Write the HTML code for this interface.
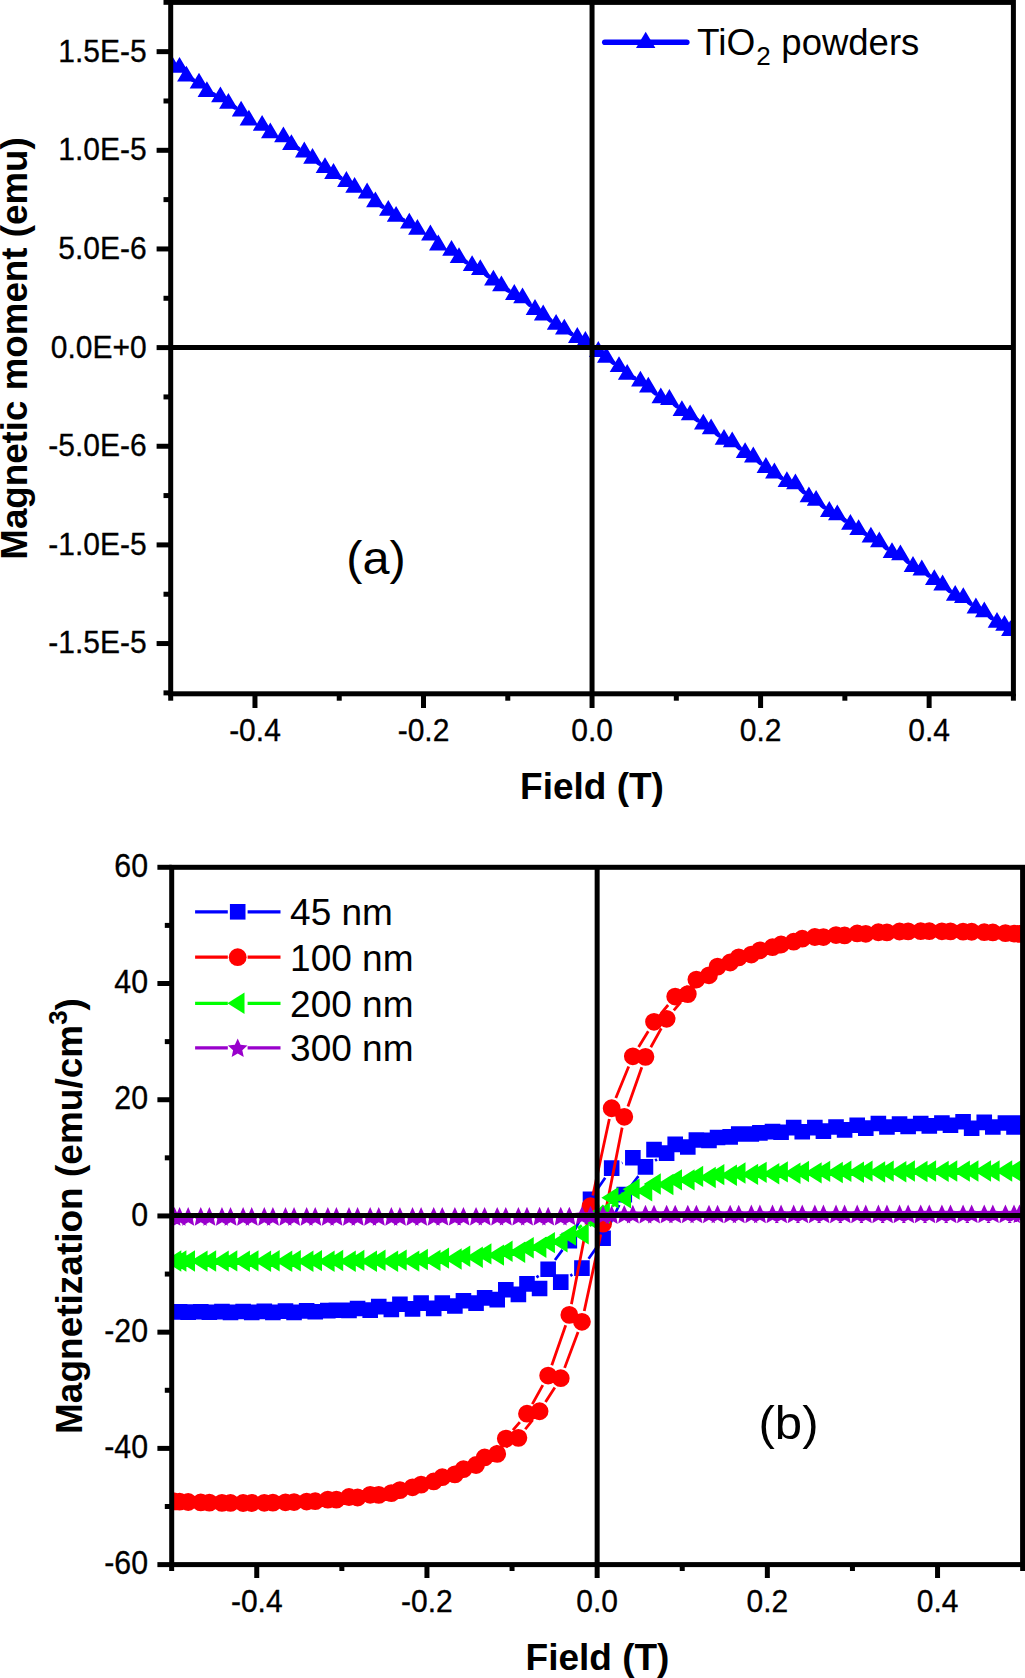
<!DOCTYPE html>
<html><head><meta charset="utf-8"><title>Magnetic measurements</title>
<style>html,body{margin:0;padding:0;background:#fff;width:1025px;height:1678px;overflow:hidden}</style>
</head><body>
<svg width="1025" height="1678" viewBox="0 0 1025 1678" style="display:block">
<rect width="1025" height="1678" fill="#fff"/>
<defs>
<clipPath id="ca"><rect x="170.7" y="2.4" width="842.7" height="691.4"/></clipPath>
<clipPath id="cb"><rect x="171.7" y="867.3" width="850.9000000000001" height="697.3"/></clipPath>
</defs>
<path clip-path="url(#ca)" fill="none" stroke="#0000ff" stroke-width="4.4" stroke-linecap="round" d="M192.54 79.66L192.86 79.84M213.45 94.27L213.85 94.43M234.36 107.06L235.14 107.54M297.47 148.18L298.23 148.62M318.09 162.61L319.41 163.59M339.45 177.29L340.45 177.91M381.25 205.85L382.45 206.65M402.32 219.61L403.08 219.99M464.99 261.41L466.11 262.09M485.76 274.18L487.94 275.92M507.2 289.81L508.5 290.69M527.61 302.68L529.89 304.82M548.86 319.22L550.44 320.38M570.2 333.07L571.4 333.83M590.91 345.82L592.79 347.28M611.95 361.64L613.35 362.66M633.44 377.67L634.16 378.03M653.64 391.83L655.46 393.37M674.61 404.27L676.69 406.13M695.8 418.96L697.6 420.24M716.53 433.42L718.57 435.08M737.57 446.39L739.73 448.21M758.68 461.58L760.52 463.12M780.17 477.07L781.13 477.73M800.46 488.84L803.84 492.06M821.46 505.01L823.94 507.09M842.95 519.04L844.75 520.36M864.55 533.38L864.95 533.62M884.63 546.53L886.67 548.27M905.53 559.66L907.87 561.84M927.33 574.39L928.77 575.51M948.02 589.53L949.78 590.97M968.72 602.23L970.48 603.67M989.69 616.46L991.61 618.04"/>
<path clip-path="url(#ca)" fill="#0000ff" d="M171.8 55.2L181.1 71L162.5 71ZM179.5 57L188.8 72.8L170.2 72.8ZM186.4 65.8L195.7 81.6L177.1 81.6ZM199 72.7L208.3 88.5L189.7 88.5ZM206.9 81.3L216.2 97.1L197.6 97.1ZM220.4 86.4L229.7 102.2L211.1 102.2ZM228.4 92.9L237.7 108.7L219.1 108.7ZM241.1 100.7L250.4 116.5L231.8 116.5ZM248.9 109.7L258.2 125.5L239.6 125.5ZM262.1 115L271.4 130.8L252.8 130.8ZM270.3 122.5L279.6 138.3L261 138.3ZM283.4 126.4L292.7 142.2L274.1 142.2ZM291.4 134.2L300.7 150L282.1 150ZM304.3 141.6L313.6 157.4L295 157.4ZM312.5 147.9L321.8 163.7L303.2 163.7ZM325 157.3L334.3 173.1L315.7 173.1ZM333.5 163.1L342.8 178.9L324.2 178.9ZM346.4 171.1L355.7 186.9L337.1 186.9ZM354.6 177L363.9 192.8L345.3 192.8ZM367.1 182.6L376.4 198.4L357.8 198.4ZM375.4 191.5L384.7 207.3L366.1 207.3ZM388.3 200L397.6 215.8L379 215.8ZM396.1 205.9L405.4 221.7L386.8 221.7ZM409.3 212.7L418.6 228.5L400 228.5ZM417.4 219L426.7 234.8L408.1 234.8ZM430.4 224.6L439.7 240.4L421.1 240.4ZM438.3 234.6L447.6 250.4L429 250.4ZM451.5 240L460.8 255.8L442.2 255.8ZM459 247.3L468.3 263.1L449.7 263.1ZM472.1 255.2L481.4 271L462.8 271ZM480.3 259.3L489.6 275.1L471 275.1ZM493.4 269.8L502.7 285.6L484.1 285.6ZM501.4 275.4L510.7 291.2L492.1 291.2ZM514.3 284.1L523.6 299.9L505 299.9ZM522.5 287.4L531.8 303.2L513.2 303.2ZM535 299.1L544.3 314.9L525.7 314.9ZM543.2 304.6L552.5 320.4L533.9 320.4ZM556.1 314L565.4 329.8L546.8 329.8ZM564.3 318.8L573.6 334.6L555 334.6ZM577.3 327.1L586.6 342.9L568 342.9ZM585.4 331L594.7 346.8L576.1 346.8ZM598.3 341.1L607.6 356.9L589 356.9ZM606.3 347L615.6 362.8L597 362.8ZM619 356.3L628.3 372.1L609.7 372.1ZM627.2 364L636.5 379.8L617.9 379.8ZM640.4 370.7L649.7 386.5L631.1 386.5ZM648.3 376.8L657.6 392.6L639 392.6ZM660.8 387.4L670.1 403.2L651.5 403.2ZM669.4 389.1L678.7 404.9L660.1 404.9ZM681.9 400.3L691.2 416.1L672.6 416.1ZM690.1 404.4L699.4 420.2L680.8 420.2ZM703.3 413.8L712.6 429.6L694 429.6ZM711.1 418.5L720.4 434.3L701.8 434.3ZM724 429L733.3 444.8L714.7 444.8ZM732.2 431.4L741.5 447.2L722.9 447.2ZM745.1 442.2L754.4 458L735.8 458ZM753.3 446.6L762.6 462.4L744 462.4ZM765.9 457.1L775.2 472.9L756.6 472.9ZM774.4 462.6L783.7 478.4L765.1 478.4ZM786.9 471.2L796.2 487L777.6 487ZM795.4 473.5L804.7 489.3L786.1 489.3ZM808.9 486.4L818.2 502.2L799.6 502.2ZM816.1 490L825.4 505.8L806.8 505.8ZM829.3 501.1L838.6 516.9L820 516.9ZM837.3 504.4L846.6 520.2L828 520.2ZM850.4 514L859.7 529.8L841.1 529.8ZM858.6 519.2L867.9 535L849.3 535ZM870.9 526.8L880.2 542.6L861.6 542.6ZM879.3 531.5L888.6 547.3L870 547.3ZM892 542.3L901.3 558.1L882.7 558.1ZM900.4 544.4L909.7 560.2L891.1 560.2ZM913 556.1L922.3 571.9L903.7 571.9ZM921.8 559.6L931.1 575.4L912.5 575.4ZM934.3 569.3L943.6 585.1L925 585.1ZM942.6 574.6L951.9 590.4L933.3 590.4ZM955.2 584.9L964.5 600.7L945.9 600.7ZM963.3 587.3L972.6 603.1L954 603.1ZM975.9 597.6L985.2 613.4L966.6 613.4ZM984.3 601.5L993.6 617.3L975 617.3ZM997 612L1006.3 627.8L987.7 627.8ZM1004.5 614.9L1013.8 630.7L995.2 630.7ZM1010.4 620.2L1019.7 636L1001.1 636Z"/>
<g stroke="#000" stroke-width="5" fill="none" stroke-linecap="butt">
<line x1="170.7" y1="347.6" x2="1013.4" y2="347.6"/>
<line x1="592.05" y1="2.4" x2="592.05" y2="693.8"/>
<rect x="170.7" y="2.4" width="842.7" height="691.4"/>
<line x1="163.5" y1="692.88" x2="170.7" y2="692.88"/>
<line x1="156.6" y1="643.55" x2="170.7" y2="643.55"/>
<line x1="163.5" y1="594.23" x2="170.7" y2="594.23"/>
<line x1="156.6" y1="544.9" x2="170.7" y2="544.9"/>
<line x1="163.5" y1="495.58" x2="170.7" y2="495.58"/>
<line x1="156.6" y1="446.25" x2="170.7" y2="446.25"/>
<line x1="163.5" y1="396.93" x2="170.7" y2="396.93"/>
<line x1="156.6" y1="347.6" x2="170.7" y2="347.6"/>
<line x1="163.5" y1="298.28" x2="170.7" y2="298.28"/>
<line x1="156.6" y1="248.95" x2="170.7" y2="248.95"/>
<line x1="163.5" y1="199.62" x2="170.7" y2="199.62"/>
<line x1="156.6" y1="150.3" x2="170.7" y2="150.3"/>
<line x1="163.5" y1="100.98" x2="170.7" y2="100.98"/>
<line x1="156.6" y1="51.65" x2="170.7" y2="51.65"/>
<line x1="163.5" y1="2.32" x2="170.7" y2="2.32"/>
<line x1="170.7" y1="693.8" x2="170.7" y2="700.7"/>
<line x1="254.97" y1="693.8" x2="254.97" y2="708"/>
<line x1="339.24" y1="693.8" x2="339.24" y2="700.7"/>
<line x1="423.51" y1="693.8" x2="423.51" y2="708"/>
<line x1="507.78" y1="693.8" x2="507.78" y2="700.7"/>
<line x1="592.05" y1="693.8" x2="592.05" y2="708"/>
<line x1="676.32" y1="693.8" x2="676.32" y2="700.7"/>
<line x1="760.59" y1="693.8" x2="760.59" y2="708"/>
<line x1="844.86" y1="693.8" x2="844.86" y2="700.7"/>
<line x1="929.13" y1="693.8" x2="929.13" y2="708"/>
<line x1="1013.4" y1="693.8" x2="1013.4" y2="700.7"/>
</g>
<g font-family="'Liberation Sans', Arial, Helvetica, sans-serif" font-size="30" fill="#000" stroke="#000" stroke-width="0.3">
<text transform="translate(146.6 61.55) scale(1 1.07)" text-anchor="end">1.5E-5</text>
<text transform="translate(146.6 160.2) scale(1 1.07)" text-anchor="end">1.0E-5</text>
<text transform="translate(146.6 258.85) scale(1 1.07)" text-anchor="end">5.0E-6</text>
<text transform="translate(146.6 357.5) scale(1 1.07)" text-anchor="end">0.0E+0</text>
<text transform="translate(146.6 456.15) scale(1 1.07)" text-anchor="end">-5.0E-6</text>
<text transform="translate(146.6 554.8) scale(1 1.07)" text-anchor="end">-1.0E-5</text>
<text transform="translate(146.6 653.45) scale(1 1.07)" text-anchor="end">-1.5E-5</text>
<text transform="translate(254.97 741) scale(1 1.07)" text-anchor="middle">-0.4</text>
<text transform="translate(423.51 741) scale(1 1.07)" text-anchor="middle">-0.2</text>
<text transform="translate(592.05 741) scale(1 1.07)" text-anchor="middle">0.0</text>
<text transform="translate(760.59 741) scale(1 1.07)" text-anchor="middle">0.2</text>
<text transform="translate(929.13 741) scale(1 1.07)" text-anchor="middle">0.4</text>
</g>
<text x="592" y="799" text-anchor="middle" font-family="'Liberation Sans', Arial, Helvetica, sans-serif" font-weight="bold" font-size="37">Field (T)</text>
<text transform="translate(26.9 348.5) rotate(-90) scale(0.993 1)" text-anchor="middle" font-family="'Liberation Sans', Arial, Helvetica, sans-serif" font-weight="bold" font-size="37">Magnetic moment (emu)</text>
<text transform="translate(375.9 574) scale(1.035 1)" text-anchor="middle" font-family="'Liberation Sans', Arial, Helvetica, sans-serif" font-size="47">(a)</text>
<line x1="604.8" y1="42.2" x2="686.8" y2="42.2" stroke="#0000ff" stroke-width="5.6" stroke-linecap="round"/>
<path fill="#0000ff" d="M645.7 31.7L655.4 47.9L636 47.9Z"/>
<text x="697" y="55" font-family="'Liberation Sans', Arial, Helvetica, sans-serif" font-size="37">TiO<tspan font-size="26" dx="1" dy="10">2</tspan><tspan dx="0.5" dy="-10" font-size="36.5"> powders</tspan></text>
<g clip-path="url(#cb)">
<path fill="none" stroke="#0000ff" stroke-width="2.7" d="M536.44 1277.36L538.69 1275.81M554.99 1260.03L562.48 1249.9M574.57 1230.42L585.25 1209.58M596.96 1189.83L605.22 1177.65M622 1163.06L622.53 1162.8M570.33 1275.78L572.34 1274.45M588.58 1258.72L596.44 1247.65M608.12 1227.93L619.25 1205.01M631.25 1185.53L638.47 1176.06M655.08 1160.63L657 1159.37"/>
<path fill="#0000ff" d="M166.7 1304.21h15.6v15.6h-15.6ZM180.38 1304.33h15.6v15.6h-15.6ZM201.55 1304.47h15.6v15.6h-15.6ZM222.72 1304.56h15.6v15.6h-15.6ZM243.9 1304.6h15.6v15.6h-15.6ZM265.07 1304.61h15.6v15.6h-15.6ZM286.25 1304.59h15.6v15.6h-15.6ZM307.42 1303.92h15.6v15.6h-15.6ZM328.6 1302.51h15.6v15.6h-15.6ZM349.77 1300.7h15.6v15.6h-15.6ZM370.95 1298.81h15.6v15.6h-15.6ZM392.12 1296.48h15.6v15.6h-15.6ZM413.3 1295.32h15.6v15.6h-15.6ZM434.47 1295.31h15.6v15.6h-15.6ZM455.65 1292.98h15.6v15.6h-15.6ZM476.82 1290.07h15.6v15.6h-15.6ZM498 1281.92h15.6v15.6h-15.6ZM519.18 1276.09h15.6v15.6h-15.6ZM540.35 1261.47h15.6v15.6h-15.6ZM561.53 1232.86h15.6v15.6h-15.6ZM582.7 1191.54h15.6v15.6h-15.6ZM603.88 1160.33h15.6v15.6h-15.6ZM625.05 1149.93h15.6v15.6h-15.6ZM646.23 1141.82h15.6v15.6h-15.6ZM667.4 1136.61h15.6v15.6h-15.6ZM688.58 1132.27h15.6v15.6h-15.6ZM709.75 1129.65h15.6v15.6h-15.6ZM730.93 1126.18h15.6v15.6h-15.6ZM752.1 1125.04h15.6v15.6h-15.6ZM773.28 1124.46h15.6v15.6h-15.6ZM794.45 1123.88h15.6v15.6h-15.6ZM815.62 1123.29h15.6v15.6h-15.6ZM836.8 1122.12h15.6v15.6h-15.6ZM857.98 1120.37h15.6v15.6h-15.6ZM879.15 1119.22h15.6v15.6h-15.6ZM900.33 1118.65h15.6v15.6h-15.6ZM921.5 1118.06h15.6v15.6h-15.6ZM942.68 1117.5h15.6v15.6h-15.6ZM963.85 1120.4h15.6v15.6h-15.6ZM985.03 1119.24h15.6v15.6h-15.6ZM1006.2 1119.24h15.6v15.6h-15.6ZM171.8 1304.01h15.6v15.6h-15.6ZM192.98 1303.95h15.6v15.6h-15.6ZM214.15 1303.85h15.6v15.6h-15.6ZM235.32 1303.72h15.6v15.6h-15.6ZM256.5 1303.55h15.6v15.6h-15.6ZM277.68 1303.34h15.6v15.6h-15.6ZM298.85 1303.12h15.6v15.6h-15.6ZM320.02 1302.86h15.6v15.6h-15.6ZM341.2 1302.58h15.6v15.6h-15.6ZM362.38 1302.29h15.6v15.6h-15.6ZM383.55 1301.77h15.6v15.6h-15.6ZM404.72 1301.12h15.6v15.6h-15.6ZM425.9 1300.54h15.6v15.6h-15.6ZM447.07 1298.2h15.6v15.6h-15.6ZM468.25 1295.28h15.6v15.6h-15.6ZM489.43 1291.81h15.6v15.6h-15.6ZM510.6 1286.57h15.6v15.6h-15.6ZM531.78 1280.75h15.6v15.6h-15.6ZM552.95 1274.33h15.6v15.6h-15.6ZM574.13 1260.29h15.6v15.6h-15.6ZM595.3 1230.48h15.6v15.6h-15.6ZM616.48 1186.87h15.6v15.6h-15.6ZM637.65 1159.12h15.6v15.6h-15.6ZM658.83 1145.28h15.6v15.6h-15.6ZM680 1139.2h15.6v15.6h-15.6ZM701.18 1132.54h15.6v15.6h-15.6ZM722.35 1129.07h15.6v15.6h-15.6ZM743.53 1126.17h15.6v15.6h-15.6ZM764.7 1123.83h15.6v15.6h-15.6ZM785.88 1119.82h15.6v15.6h-15.6ZM807.05 1119.82h15.6v15.6h-15.6ZM828.23 1119.22h15.6v15.6h-15.6ZM849.4 1117.46h15.6v15.6h-15.6ZM870.58 1115.76h15.6v15.6h-15.6ZM891.75 1116.34h15.6v15.6h-15.6ZM912.93 1115.74h15.6v15.6h-15.6ZM934.1 1115.15h15.6v15.6h-15.6ZM955.28 1114.01h15.6v15.6h-15.6ZM976.45 1114.61h15.6v15.6h-15.6ZM997.62 1115.17h15.6v15.6h-15.6ZM1011.7 1115.17h15.6v15.6h-15.6Z"/>
<path fill="none" stroke="#ff0000" stroke-width="2.8" d="M452.56 1473.31L453.16 1473.09M473.07 1463.87L475 1462.8M492.84 1450.15L497.59 1445.91M512.93 1430.21L519.85 1422.08M532.31 1404.08L542.81 1385.18M551.78 1365.18L565.7 1325.29M571.43 1304.11L588.4 1217.06M592.82 1195.51L609.35 1119.02M615.82 1098.08L628.7 1066.47M638.61 1046.91L648.27 1031.17M661.1 1013.37L668.13 1005.01M683.77 989.68L687.81 986.43M705.78 973.82L708.15 972.39M727.62 962.25L728.66 961.79M464.93 1469.95L465.99 1469.48M485.78 1459.9L487.49 1459M506 1447.24L509.63 1444.49M525.26 1429.25L532.72 1419.89M545.5 1402.03L554.82 1387.44M564.62 1367.88L578.06 1332.09M584.25 1311.04L600.78 1234.46M605.24 1212.91L622.14 1127.61M627.94 1106.45L641.79 1067.21M650.8 1047.23L661.28 1028.41M673.78 1010.44L680.64 1002.43M696.04 986.78L700.74 982.61M718.39 969.63L720.74 968.21M740.45 958.65L741.03 958.43"/>
<path fill="#ff0000" d="M165.6 1501.44a8.9 8.9 0 1 0 17.8 0a8.9 8.9 0 1 0 -17.8 0ZM179.28 1502.01a8.9 8.9 0 1 0 17.8 0a8.9 8.9 0 1 0 -17.8 0ZM200.45 1502.64a8.9 8.9 0 1 0 17.8 0a8.9 8.9 0 1 0 -17.8 0ZM221.62 1502.96a8.9 8.9 0 1 0 17.8 0a8.9 8.9 0 1 0 -17.8 0ZM242.8 1502.98a8.9 8.9 0 1 0 17.8 0a8.9 8.9 0 1 0 -17.8 0ZM263.98 1502.63a8.9 8.9 0 1 0 17.8 0a8.9 8.9 0 1 0 -17.8 0ZM285.15 1502.04a8.9 8.9 0 1 0 17.8 0a8.9 8.9 0 1 0 -17.8 0ZM306.32 1501.18a8.9 8.9 0 1 0 17.8 0a8.9 8.9 0 1 0 -17.8 0ZM327.5 1499.65a8.9 8.9 0 1 0 17.8 0a8.9 8.9 0 1 0 -17.8 0ZM348.68 1497.51a8.9 8.9 0 1 0 17.8 0a8.9 8.9 0 1 0 -17.8 0ZM369.85 1494.83a8.9 8.9 0 1 0 17.8 0a8.9 8.9 0 1 0 -17.8 0ZM391.02 1490.13a8.9 8.9 0 1 0 17.8 0a8.9 8.9 0 1 0 -17.8 0ZM412.2 1484.6a8.9 8.9 0 1 0 17.8 0a8.9 8.9 0 1 0 -17.8 0ZM433.38 1477.2a8.9 8.9 0 1 0 17.8 0a8.9 8.9 0 1 0 -17.8 0ZM454.55 1469.2a8.9 8.9 0 1 0 17.8 0a8.9 8.9 0 1 0 -17.8 0ZM475.73 1457.47a8.9 8.9 0 1 0 17.8 0a8.9 8.9 0 1 0 -17.8 0ZM496.9 1438.59a8.9 8.9 0 1 0 17.8 0a8.9 8.9 0 1 0 -17.8 0ZM518.08 1413.7a8.9 8.9 0 1 0 17.8 0a8.9 8.9 0 1 0 -17.8 0ZM539.25 1375.56a8.9 8.9 0 1 0 17.8 0a8.9 8.9 0 1 0 -17.8 0ZM560.43 1314.9a8.9 8.9 0 1 0 17.8 0a8.9 8.9 0 1 0 -17.8 0ZM581.6 1206.26a8.9 8.9 0 1 0 17.8 0a8.9 8.9 0 1 0 -17.8 0ZM602.77 1108.27a8.9 8.9 0 1 0 17.8 0a8.9 8.9 0 1 0 -17.8 0ZM623.95 1056.28a8.9 8.9 0 1 0 17.8 0a8.9 8.9 0 1 0 -17.8 0ZM645.12 1021.8a8.9 8.9 0 1 0 17.8 0a8.9 8.9 0 1 0 -17.8 0ZM666.3 996.58a8.9 8.9 0 1 0 17.8 0a8.9 8.9 0 1 0 -17.8 0ZM687.48 979.53a8.9 8.9 0 1 0 17.8 0a8.9 8.9 0 1 0 -17.8 0ZM708.65 966.68a8.9 8.9 0 1 0 17.8 0a8.9 8.9 0 1 0 -17.8 0ZM729.83 957.35a8.9 8.9 0 1 0 17.8 0a8.9 8.9 0 1 0 -17.8 0ZM751 950.33a8.9 8.9 0 1 0 17.8 0a8.9 8.9 0 1 0 -17.8 0ZM772.18 944.5a8.9 8.9 0 1 0 17.8 0a8.9 8.9 0 1 0 -17.8 0ZM793.35 938.72a8.9 8.9 0 1 0 17.8 0a8.9 8.9 0 1 0 -17.8 0ZM814.52 937.07a8.9 8.9 0 1 0 17.8 0a8.9 8.9 0 1 0 -17.8 0ZM835.7 935.47a8.9 8.9 0 1 0 17.8 0a8.9 8.9 0 1 0 -17.8 0ZM856.88 933.8a8.9 8.9 0 1 0 17.8 0a8.9 8.9 0 1 0 -17.8 0ZM878.05 932.35a8.9 8.9 0 1 0 17.8 0a8.9 8.9 0 1 0 -17.8 0ZM899.23 931.41a8.9 8.9 0 1 0 17.8 0a8.9 8.9 0 1 0 -17.8 0ZM920.4 931.22a8.9 8.9 0 1 0 17.8 0a8.9 8.9 0 1 0 -17.8 0ZM941.58 931.37a8.9 8.9 0 1 0 17.8 0a8.9 8.9 0 1 0 -17.8 0ZM962.75 931.75a8.9 8.9 0 1 0 17.8 0a8.9 8.9 0 1 0 -17.8 0ZM983.93 932.46a8.9 8.9 0 1 0 17.8 0a8.9 8.9 0 1 0 -17.8 0ZM1005.1 933.56a8.9 8.9 0 1 0 17.8 0a8.9 8.9 0 1 0 -17.8 0ZM170.7 1501.67a8.9 8.9 0 1 0 17.8 0a8.9 8.9 0 1 0 -17.8 0ZM191.88 1502.42a8.9 8.9 0 1 0 17.8 0a8.9 8.9 0 1 0 -17.8 0ZM213.05 1502.87a8.9 8.9 0 1 0 17.8 0a8.9 8.9 0 1 0 -17.8 0ZM234.22 1503.01a8.9 8.9 0 1 0 17.8 0a8.9 8.9 0 1 0 -17.8 0ZM255.4 1502.81a8.9 8.9 0 1 0 17.8 0a8.9 8.9 0 1 0 -17.8 0ZM276.58 1502.31a8.9 8.9 0 1 0 17.8 0a8.9 8.9 0 1 0 -17.8 0ZM297.75 1501.54a8.9 8.9 0 1 0 17.8 0a8.9 8.9 0 1 0 -17.8 0ZM318.93 1499.62a8.9 8.9 0 1 0 17.8 0a8.9 8.9 0 1 0 -17.8 0ZM340.1 1497.04a8.9 8.9 0 1 0 17.8 0a8.9 8.9 0 1 0 -17.8 0ZM361.28 1494.79a8.9 8.9 0 1 0 17.8 0a8.9 8.9 0 1 0 -17.8 0ZM382.45 1493.13a8.9 8.9 0 1 0 17.8 0a8.9 8.9 0 1 0 -17.8 0ZM403.62 1487.29a8.9 8.9 0 1 0 17.8 0a8.9 8.9 0 1 0 -17.8 0ZM424.8 1481.45a8.9 8.9 0 1 0 17.8 0a8.9 8.9 0 1 0 -17.8 0ZM445.98 1474.4a8.9 8.9 0 1 0 17.8 0a8.9 8.9 0 1 0 -17.8 0ZM467.15 1465.03a8.9 8.9 0 1 0 17.8 0a8.9 8.9 0 1 0 -17.8 0ZM488.33 1453.88a8.9 8.9 0 1 0 17.8 0a8.9 8.9 0 1 0 -17.8 0ZM509.5 1437.85a8.9 8.9 0 1 0 17.8 0a8.9 8.9 0 1 0 -17.8 0ZM530.68 1411.29a8.9 8.9 0 1 0 17.8 0a8.9 8.9 0 1 0 -17.8 0ZM551.85 1378.18a8.9 8.9 0 1 0 17.8 0a8.9 8.9 0 1 0 -17.8 0ZM573.03 1321.79a8.9 8.9 0 1 0 17.8 0a8.9 8.9 0 1 0 -17.8 0ZM594.2 1223.7a8.9 8.9 0 1 0 17.8 0a8.9 8.9 0 1 0 -17.8 0ZM615.38 1116.82a8.9 8.9 0 1 0 17.8 0a8.9 8.9 0 1 0 -17.8 0ZM636.55 1056.84a8.9 8.9 0 1 0 17.8 0a8.9 8.9 0 1 0 -17.8 0ZM657.73 1018.79a8.9 8.9 0 1 0 17.8 0a8.9 8.9 0 1 0 -17.8 0ZM678.9 994.07a8.9 8.9 0 1 0 17.8 0a8.9 8.9 0 1 0 -17.8 0ZM700.08 975.32a8.9 8.9 0 1 0 17.8 0a8.9 8.9 0 1 0 -17.8 0ZM721.25 962.52a8.9 8.9 0 1 0 17.8 0a8.9 8.9 0 1 0 -17.8 0ZM742.43 954.55a8.9 8.9 0 1 0 17.8 0a8.9 8.9 0 1 0 -17.8 0ZM763.6 947.18a8.9 8.9 0 1 0 17.8 0a8.9 8.9 0 1 0 -17.8 0ZM784.78 941.68a8.9 8.9 0 1 0 17.8 0a8.9 8.9 0 1 0 -17.8 0ZM805.95 937.02a8.9 8.9 0 1 0 17.8 0a8.9 8.9 0 1 0 -17.8 0ZM827.13 935.06a8.9 8.9 0 1 0 17.8 0a8.9 8.9 0 1 0 -17.8 0ZM848.3 933.45a8.9 8.9 0 1 0 17.8 0a8.9 8.9 0 1 0 -17.8 0ZM869.48 932.26a8.9 8.9 0 1 0 17.8 0a8.9 8.9 0 1 0 -17.8 0ZM890.65 931.49a8.9 8.9 0 1 0 17.8 0a8.9 8.9 0 1 0 -17.8 0ZM911.83 931.21a8.9 8.9 0 1 0 17.8 0a8.9 8.9 0 1 0 -17.8 0ZM933 931.3a8.9 8.9 0 1 0 17.8 0a8.9 8.9 0 1 0 -17.8 0ZM954.18 931.61a8.9 8.9 0 1 0 17.8 0a8.9 8.9 0 1 0 -17.8 0ZM975.35 932.2a8.9 8.9 0 1 0 17.8 0a8.9 8.9 0 1 0 -17.8 0ZM996.52 933.13a8.9 8.9 0 1 0 17.8 0a8.9 8.9 0 1 0 -17.8 0ZM1010.6 933.96a8.9 8.9 0 1 0 17.8 0a8.9 8.9 0 1 0 -17.8 0Z"/>
<path fill="none" stroke="#00ff00" stroke-width="2.7" d="M578.03 1228.32L581.8 1225.41M598.33 1210.96L603.84 1205.53M621.86 1193.64L622.67 1193.31M571.07 1237.89L571.61 1237.69M589.74 1226.13L595.29 1220.62M612.07 1206.51L615.31 1204.21"/>
<path fill="#00ff00" d="M164.2 1260.98L181.3 1250.28L181.3 1271.68ZM177.88 1260.98L194.98 1250.28L194.98 1271.68ZM199.05 1260.95L216.15 1250.25L216.15 1271.65ZM220.22 1260.92L237.32 1250.22L237.32 1271.62ZM241.4 1260.87L258.5 1250.17L258.5 1271.57ZM262.57 1260.81L279.68 1250.11L279.68 1271.51ZM283.75 1260.73L300.85 1250.03L300.85 1271.43ZM304.92 1260.64L322.02 1249.94L322.02 1271.34ZM326.1 1260.54L343.2 1249.84L343.2 1271.24ZM347.27 1260.41L364.38 1249.71L364.38 1271.11ZM368.45 1260.27L385.55 1249.57L385.55 1270.97ZM389.62 1260.11L406.72 1249.41L406.72 1270.81ZM410.8 1259.52L427.9 1248.82L427.9 1270.22ZM431.97 1258.17L449.07 1247.47L449.07 1268.87ZM453.15 1256.23L470.25 1245.53L470.25 1266.93ZM474.32 1253.88L491.43 1243.18L491.43 1264.58ZM495.5 1251.3L512.6 1240.6L512.6 1262ZM516.68 1247.7L533.77 1237L533.77 1258.4ZM537.85 1242.64L554.95 1231.94L554.95 1253.34ZM559.03 1235.04L576.12 1224.34L576.12 1245.74ZM580.2 1218.68L597.3 1207.98L597.3 1229.38ZM601.38 1197.81L618.47 1187.11L618.47 1208.51ZM622.55 1189.14L639.65 1178.44L639.65 1199.84ZM643.73 1183.93L660.82 1173.23L660.82 1194.63ZM664.9 1179.87L682 1169.17L682 1190.57ZM686.08 1176.4L703.17 1165.7L703.17 1187.1ZM707.25 1174.66L724.35 1163.96L724.35 1185.36ZM728.43 1172.94L745.52 1162.24L745.52 1183.64ZM749.6 1172.35L766.7 1161.65L766.7 1183.05ZM770.78 1171.9L787.88 1161.2L787.88 1182.6ZM791.95 1171.57L809.05 1160.87L809.05 1182.27ZM813.12 1171.35L830.22 1160.65L830.22 1182.05ZM834.3 1171.22L851.4 1160.52L851.4 1181.92ZM855.48 1171.16L872.58 1160.46L872.58 1181.86ZM876.65 1171.1L893.75 1160.4L893.75 1181.8ZM897.83 1171.05L914.92 1160.35L914.92 1181.75ZM919 1171.01L936.1 1160.31L936.1 1181.71ZM940.18 1170.97L957.27 1160.27L957.27 1181.67ZM961.35 1170.95L978.45 1160.25L978.45 1181.65ZM982.53 1170.93L999.62 1160.23L999.62 1181.63ZM1003.7 1170.92L1020.8 1160.22L1020.8 1181.62ZM169.3 1261.05L186.4 1250.35L186.4 1271.75ZM190.48 1261.11L207.58 1250.41L207.58 1271.81ZM211.65 1261.16L228.75 1250.46L228.75 1271.86ZM232.82 1261.19L249.93 1250.49L249.93 1271.89ZM254 1261.22L271.1 1250.52L271.1 1271.92ZM275.18 1261.24L292.28 1250.54L292.28 1271.94ZM296.35 1261.26L313.45 1250.56L313.45 1271.96ZM317.52 1261.27L334.62 1250.57L334.62 1271.97ZM338.7 1261.27L355.8 1250.57L355.8 1271.97ZM359.88 1261.28L376.98 1250.58L376.98 1271.98ZM381.05 1261.28L398.15 1250.58L398.15 1271.98ZM402.22 1261.15L419.32 1250.45L419.32 1271.85ZM423.4 1260.39L440.5 1249.69L440.5 1271.09ZM444.57 1259.06L461.68 1248.36L461.68 1269.76ZM465.75 1257.27L482.85 1246.57L482.85 1267.97ZM486.93 1255.14L504.03 1244.44L504.03 1265.84ZM508.1 1252.21L525.2 1241.51L525.2 1262.91ZM529.28 1247.22L546.38 1236.52L546.38 1257.92ZM550.45 1241.71L567.55 1231.01L567.55 1252.41ZM571.63 1233.87L588.73 1223.17L588.73 1244.57ZM592.8 1212.88L609.9 1202.18L609.9 1223.58ZM613.98 1197.83L631.07 1187.13L631.07 1208.53ZM635.15 1190.88L652.25 1180.18L652.25 1201.58ZM656.33 1184.5L673.42 1173.8L673.42 1195.2ZM677.5 1179.88L694.6 1169.18L694.6 1190.58ZM698.68 1177.56L715.77 1166.86L715.77 1188.26ZM719.85 1175.26L736.95 1164.56L736.95 1185.96ZM741.03 1174.39L758.12 1163.69L758.12 1185.09ZM762.2 1173.73L779.3 1163.03L779.3 1184.43ZM783.38 1173.23L800.48 1162.53L800.48 1183.93ZM804.55 1172.85L821.65 1162.15L821.65 1183.55ZM825.73 1172.55L842.83 1161.85L842.83 1183.25ZM846.9 1172.28L864 1161.58L864 1182.98ZM868.08 1172.02L885.17 1161.32L885.17 1182.72ZM889.25 1171.77L906.35 1161.07L906.35 1182.47ZM910.43 1171.54L927.52 1160.84L927.52 1182.24ZM931.6 1171.34L948.7 1160.64L948.7 1182.04ZM952.78 1171.17L969.88 1160.47L969.88 1181.87ZM973.95 1171.04L991.05 1160.34L991.05 1181.74ZM995.12 1170.95L1012.22 1160.25L1012.22 1181.65ZM1009.2 1170.92L1026.3 1160.22L1026.3 1181.62Z"/>
<path fill="none" stroke="#9900cc" stroke-width="2.7" d=""/>
<path fill="#9900cc" d="M174.5 1207.1L177.36 1213.47L184.3 1214.22L179.12 1218.9L180.55 1225.74L174.5 1222.26L168.45 1225.74L169.88 1218.9L164.7 1214.22L171.64 1213.47ZM188.18 1207.1L191.03 1213.47L197.97 1214.22L192.8 1218.9L194.23 1225.74L188.18 1222.26L182.12 1225.74L183.55 1218.9L178.38 1214.22L185.32 1213.47ZM209.35 1207.1L212.21 1213.47L219.15 1214.22L213.97 1218.9L215.4 1225.73L209.35 1222.26L203.3 1225.73L204.73 1218.9L199.55 1214.22L206.49 1213.47ZM230.52 1207.1L233.38 1213.47L240.32 1214.22L235.15 1218.9L236.58 1225.73L230.52 1222.26L224.47 1225.73L225.9 1218.9L220.73 1214.22L227.67 1213.47ZM251.7 1207.1L254.56 1213.46L261.5 1214.21L256.32 1218.9L257.75 1225.73L251.7 1222.26L245.65 1225.73L247.08 1218.9L241.9 1214.21L248.84 1213.46ZM272.88 1207.09L275.73 1213.46L282.67 1214.21L277.5 1218.89L278.93 1225.72L272.88 1222.25L266.82 1225.72L268.25 1218.89L263.08 1214.21L270.02 1213.46ZM294.05 1207.08L296.91 1213.45L303.85 1214.2L298.67 1218.89L300.1 1225.72L294.05 1222.24L288 1225.72L289.43 1218.89L284.25 1214.2L291.19 1213.45ZM315.22 1207.08L318.08 1213.44L325.02 1214.19L319.85 1218.88L321.28 1225.71L315.22 1222.24L309.17 1225.71L310.6 1218.88L305.43 1214.19L312.37 1213.44ZM336.4 1207.07L339.26 1213.44L346.2 1214.18L341.02 1218.87L342.45 1225.7L336.4 1222.23L330.35 1225.7L331.78 1218.87L326.6 1214.18L333.54 1213.44ZM357.57 1207.06L360.43 1213.42L367.37 1214.17L362.2 1218.86L363.63 1225.69L357.57 1222.22L351.52 1225.69L352.95 1218.86L347.78 1214.17L354.72 1213.42ZM378.75 1207.04L381.61 1213.41L388.55 1214.16L383.37 1218.84L384.8 1225.67L378.75 1222.2L372.7 1225.67L374.13 1218.84L368.95 1214.16L375.89 1213.41ZM399.92 1207.03L402.78 1213.39L409.72 1214.14L404.55 1218.83L405.98 1225.66L399.92 1222.19L393.87 1225.66L395.3 1218.83L390.13 1214.14L397.07 1213.39ZM421.1 1207.01L423.96 1213.38L430.9 1214.12L425.72 1218.81L427.15 1225.64L421.1 1222.17L415.05 1225.64L416.48 1218.81L411.3 1214.12L418.24 1213.38ZM442.27 1206.99L445.13 1213.35L452.07 1214.1L446.9 1218.79L448.33 1225.62L442.27 1222.15L436.22 1225.62L437.65 1218.79L432.48 1214.1L439.42 1213.35ZM463.45 1206.96L466.31 1213.33L473.25 1214.08L468.07 1218.76L469.5 1225.59L463.45 1222.12L457.4 1225.59L458.83 1218.76L453.65 1214.08L460.59 1213.33ZM484.62 1206.94L487.48 1213.3L494.42 1214.05L489.25 1218.74L490.68 1225.57L484.62 1222.1L478.57 1225.57L480 1218.74L474.83 1214.05L481.77 1213.3ZM505.8 1206.9L508.66 1213.27L515.6 1214.02L510.42 1218.71L511.85 1225.54L505.8 1222.06L499.75 1225.54L501.18 1218.71L496 1214.02L502.94 1213.27ZM526.98 1206.87L529.83 1213.24L536.77 1213.99L531.6 1218.67L533.03 1225.5L526.98 1222.03L520.92 1225.5L522.35 1218.67L517.18 1213.99L524.12 1213.24ZM548.15 1206.83L551.01 1213.2L557.95 1213.95L552.77 1218.64L554.2 1225.47L548.15 1221.99L542.1 1225.47L543.53 1218.64L538.35 1213.95L545.29 1213.2ZM569.33 1206.66L572.18 1213.03L579.12 1213.78L573.95 1218.46L575.38 1225.29L569.33 1221.82L563.27 1225.29L564.7 1218.46L559.53 1213.78L566.47 1213.03ZM590.5 1205.85L593.36 1212.22L600.3 1212.97L595.12 1217.65L596.55 1224.49L590.5 1221.01L584.45 1224.49L585.88 1217.65L580.7 1212.97L587.64 1212.22ZM611.67 1205.26L614.53 1211.63L621.47 1212.38L616.3 1217.07L617.73 1223.9L611.67 1220.42L605.62 1223.9L607.05 1217.07L601.88 1212.38L608.82 1211.63ZM632.85 1204.83L635.71 1211.2L642.65 1211.94L637.47 1216.63L638.9 1223.46L632.85 1219.99L626.8 1223.46L628.23 1216.63L623.05 1211.94L629.99 1211.2ZM654.02 1204.75L656.88 1211.12L663.82 1211.87L658.65 1216.55L660.08 1223.39L654.02 1219.91L647.97 1223.39L649.4 1216.55L644.23 1211.87L651.17 1211.12ZM675.2 1204.72L678.06 1211.08L685 1211.83L679.82 1216.52L681.25 1223.35L675.2 1219.88L669.15 1223.35L670.58 1216.52L665.4 1211.83L672.34 1211.08ZM696.38 1204.68L699.23 1211.05L706.17 1211.8L701 1216.48L702.43 1223.32L696.38 1219.84L690.32 1223.32L691.75 1216.48L686.58 1211.8L693.52 1211.05ZM717.55 1204.65L720.41 1211.02L727.35 1211.77L722.17 1216.46L723.6 1223.29L717.55 1219.81L711.5 1223.29L712.93 1216.46L707.75 1211.77L714.69 1211.02ZM738.73 1204.63L741.58 1210.99L748.52 1211.74L743.35 1216.43L744.78 1223.26L738.73 1219.79L732.67 1223.26L734.1 1216.43L728.93 1211.74L735.87 1210.99ZM759.9 1204.6L762.76 1210.97L769.7 1211.72L764.52 1216.4L765.95 1223.24L759.9 1219.76L753.85 1223.24L755.28 1216.4L750.1 1211.72L757.04 1210.97ZM781.08 1204.58L783.93 1210.95L790.87 1211.7L785.7 1216.38L787.13 1223.21L781.08 1219.74L775.02 1223.21L776.45 1216.38L771.28 1211.7L778.22 1210.95ZM802.25 1204.56L805.11 1210.93L812.05 1211.68L806.87 1216.37L808.3 1223.2L802.25 1219.72L796.2 1223.2L797.63 1216.37L792.45 1211.68L799.39 1210.93ZM823.42 1204.55L826.28 1210.92L833.22 1211.66L828.05 1216.35L829.48 1223.18L823.42 1219.71L817.37 1223.18L818.8 1216.35L813.63 1211.66L820.57 1210.92ZM844.6 1204.53L847.46 1210.9L854.4 1211.65L849.22 1216.34L850.65 1223.17L844.6 1219.69L838.55 1223.17L839.98 1216.34L834.8 1211.65L841.74 1210.9ZM865.78 1204.52L868.63 1210.89L875.57 1211.64L870.4 1216.32L871.83 1223.16L865.78 1219.68L859.72 1223.16L861.15 1216.32L855.98 1211.64L862.92 1210.89ZM886.95 1204.51L889.81 1210.88L896.75 1211.63L891.57 1216.31L893 1223.15L886.95 1219.67L880.9 1223.15L882.33 1216.31L877.15 1211.63L884.09 1210.88ZM908.12 1204.51L910.98 1210.87L917.92 1211.62L912.75 1216.31L914.18 1223.14L908.12 1219.67L902.07 1223.14L903.5 1216.31L898.33 1211.62L905.27 1210.87ZM929.3 1204.5L932.16 1210.87L939.1 1211.62L933.92 1216.3L935.35 1223.13L929.3 1219.66L923.25 1223.13L924.68 1216.3L919.5 1211.62L926.44 1210.87ZM950.48 1204.49L953.33 1210.86L960.27 1211.61L955.1 1216.3L956.53 1223.13L950.48 1219.65L944.42 1223.13L945.85 1216.3L940.68 1211.61L947.62 1210.86ZM971.65 1204.49L974.51 1210.86L981.45 1211.61L976.27 1216.29L977.7 1223.12L971.65 1219.65L965.6 1223.12L967.03 1216.29L961.85 1211.61L968.79 1210.86ZM992.83 1204.49L995.68 1210.86L1002.62 1211.61L997.45 1216.29L998.88 1223.12L992.83 1219.65L986.77 1223.12L988.2 1216.29L983.03 1211.61L989.97 1210.86ZM1014 1204.49L1016.86 1210.86L1023.8 1211.61L1018.62 1216.29L1020.05 1223.12L1014 1219.65L1007.95 1223.12L1009.38 1216.29L1004.2 1211.61L1011.14 1210.86ZM179.6 1207.1L182.46 1213.47L189.4 1214.22L184.22 1218.9L185.65 1225.74L179.6 1222.26L173.55 1225.74L174.98 1218.9L169.8 1214.22L176.74 1213.47ZM200.78 1207.1L203.63 1213.47L210.57 1214.22L205.4 1218.9L206.83 1225.73L200.78 1222.26L194.72 1225.73L196.15 1218.9L190.98 1214.22L197.92 1213.47ZM221.95 1207.1L224.81 1213.47L231.75 1214.22L226.57 1218.9L228 1225.73L221.95 1222.26L215.9 1225.73L217.33 1218.9L212.15 1214.22L219.09 1213.47ZM243.12 1207.1L245.98 1213.46L252.92 1214.21L247.75 1218.9L249.18 1225.73L243.12 1222.26L237.07 1225.73L238.5 1218.9L233.33 1214.21L240.27 1213.46ZM264.3 1207.09L267.16 1213.46L274.1 1214.21L268.92 1218.89L270.35 1225.73L264.3 1222.25L258.25 1225.73L259.68 1218.89L254.5 1214.21L261.44 1213.46ZM285.48 1207.09L288.33 1213.46L295.27 1214.2L290.1 1218.89L291.53 1225.72L285.48 1222.25L279.42 1225.72L280.85 1218.89L275.68 1214.2L282.62 1213.46ZM306.65 1207.08L309.51 1213.45L316.45 1214.2L311.27 1218.88L312.7 1225.71L306.65 1222.24L300.6 1225.71L302.03 1218.88L296.85 1214.2L303.79 1213.45ZM327.82 1207.07L330.68 1213.44L337.62 1214.19L332.45 1218.87L333.88 1225.7L327.82 1222.23L321.77 1225.7L323.2 1218.87L318.03 1214.19L324.97 1213.44ZM349 1207.06L351.86 1213.43L358.8 1214.18L353.62 1218.86L355.05 1225.69L349 1222.22L342.95 1225.69L344.38 1218.86L339.2 1214.18L346.14 1213.43ZM370.18 1207.05L373.03 1213.42L379.97 1214.16L374.8 1218.85L376.23 1225.68L370.18 1222.21L364.12 1225.68L365.55 1218.85L360.38 1214.16L367.32 1213.42ZM391.35 1207.03L394.21 1213.4L401.15 1214.15L395.97 1218.83L397.4 1225.67L391.35 1222.19L385.3 1225.67L386.73 1218.83L381.55 1214.15L388.49 1213.4ZM412.52 1207.02L415.38 1213.38L422.32 1214.13L417.15 1218.82L418.58 1225.65L412.52 1222.18L406.47 1225.65L407.9 1218.82L402.73 1214.13L409.67 1213.38ZM433.7 1206.99L436.56 1213.36L443.5 1214.11L438.32 1218.8L439.75 1225.63L433.7 1222.15L427.65 1225.63L429.08 1218.8L423.9 1214.11L430.84 1213.36ZM454.88 1206.97L457.73 1213.34L464.67 1214.09L459.5 1218.77L460.93 1225.61L454.88 1222.13L448.82 1225.61L450.25 1218.77L445.08 1214.09L452.02 1213.34ZM476.05 1206.95L478.91 1213.31L485.85 1214.06L480.67 1218.75L482.1 1225.58L476.05 1222.11L470 1225.58L471.43 1218.75L466.25 1214.06L473.19 1213.31ZM497.23 1206.92L500.08 1213.29L507.02 1214.03L501.85 1218.72L503.28 1225.55L497.23 1222.08L491.17 1225.55L492.6 1218.72L487.43 1214.03L494.37 1213.29ZM518.4 1206.89L521.26 1213.25L528.2 1214L523.02 1218.69L524.45 1225.52L518.4 1222.05L512.35 1225.52L513.78 1218.69L508.6 1214L515.54 1213.25ZM539.58 1206.85L542.43 1213.22L549.37 1213.97L544.2 1218.65L545.63 1225.48L539.58 1222.01L533.52 1225.48L534.95 1218.65L529.78 1213.97L536.72 1213.22ZM560.75 1206.81L563.61 1213.18L570.55 1213.93L565.37 1218.61L566.8 1225.44L560.75 1221.97L554.7 1225.44L556.13 1218.61L550.95 1213.93L557.89 1213.18ZM581.93 1206.2L584.78 1212.56L591.72 1213.31L586.55 1218L587.98 1224.83L581.93 1221.36L575.87 1224.83L577.3 1218L572.13 1213.31L579.07 1212.56ZM603.1 1205.49L605.96 1211.86L612.9 1212.61L607.72 1217.29L609.15 1224.13L603.1 1220.65L597.05 1224.13L598.48 1217.29L593.3 1212.61L600.24 1211.86ZM624.27 1204.96L627.13 1211.33L634.07 1212.08L628.9 1216.77L630.33 1223.6L624.27 1220.12L618.22 1223.6L619.65 1216.77L614.48 1212.08L621.42 1211.33ZM645.45 1204.77L648.31 1211.14L655.25 1211.89L650.07 1216.57L651.5 1223.4L645.45 1219.93L639.4 1223.4L640.83 1216.57L635.65 1211.89L642.59 1211.14ZM666.62 1204.73L669.48 1211.1L676.42 1211.85L671.25 1216.53L672.68 1223.36L666.62 1219.89L660.57 1223.36L662 1216.53L656.83 1211.85L663.77 1211.1ZM687.8 1204.7L690.66 1211.06L697.6 1211.81L692.42 1216.5L693.85 1223.33L687.8 1219.86L681.75 1223.33L683.18 1216.5L678 1211.81L684.94 1211.06ZM708.98 1204.66L711.83 1211.03L718.77 1211.78L713.6 1216.47L715.03 1223.3L708.98 1219.82L702.92 1223.3L704.35 1216.47L699.18 1211.78L706.12 1211.03ZM730.15 1204.64L733.01 1211.01L739.95 1211.75L734.77 1216.44L736.2 1223.27L730.15 1219.8L724.1 1223.27L725.53 1216.44L720.35 1211.75L727.29 1211.01ZM751.33 1204.61L754.18 1210.98L761.12 1211.73L755.95 1216.41L757.38 1223.25L751.33 1219.77L745.27 1223.25L746.7 1216.41L741.53 1211.73L748.47 1210.98ZM772.5 1204.59L775.36 1210.96L782.3 1211.71L777.12 1216.39L778.55 1223.22L772.5 1219.75L766.45 1223.22L767.88 1216.39L762.7 1211.71L769.64 1210.96ZM793.68 1204.57L796.53 1210.94L803.47 1211.69L798.3 1216.37L799.73 1223.2L793.68 1219.73L787.62 1223.2L789.05 1216.37L783.88 1211.69L790.82 1210.94ZM814.85 1204.55L817.71 1210.92L824.65 1211.67L819.47 1216.36L820.9 1223.19L814.85 1219.71L808.8 1223.19L810.23 1216.36L805.05 1211.67L811.99 1210.92ZM836.03 1204.54L838.88 1210.91L845.82 1211.66L840.65 1216.34L842.08 1223.17L836.03 1219.7L829.97 1223.17L831.4 1216.34L826.23 1211.66L833.17 1210.91ZM857.2 1204.53L860.06 1210.9L867 1211.64L861.82 1216.33L863.25 1223.16L857.2 1219.69L851.15 1223.16L852.58 1216.33L847.4 1211.64L854.34 1210.9ZM878.38 1204.52L881.23 1210.88L888.17 1211.63L883 1216.32L884.43 1223.15L878.38 1219.68L872.32 1223.15L873.75 1216.32L868.58 1211.63L875.52 1210.88ZM899.55 1204.51L902.41 1210.88L909.35 1211.63L904.17 1216.31L905.6 1223.14L899.55 1219.67L893.5 1223.14L894.93 1216.31L889.75 1211.63L896.69 1210.88ZM920.73 1204.5L923.58 1210.87L930.52 1211.62L925.35 1216.3L926.78 1223.13L920.73 1219.66L914.67 1223.13L916.1 1216.3L910.93 1211.62L917.87 1210.87ZM941.9 1204.5L944.76 1210.86L951.7 1211.61L946.52 1216.3L947.95 1223.13L941.9 1219.66L935.85 1223.13L937.28 1216.3L932.1 1211.61L939.04 1210.86ZM963.08 1204.49L965.93 1210.86L972.87 1211.61L967.7 1216.29L969.13 1223.13L963.08 1219.65L957.02 1223.13L958.45 1216.29L953.28 1211.61L960.22 1210.86ZM984.25 1204.49L987.11 1210.86L994.05 1211.61L988.87 1216.29L990.3 1223.12L984.25 1219.65L978.2 1223.12L979.63 1216.29L974.45 1211.61L981.39 1210.86ZM1005.42 1204.49L1008.28 1210.86L1015.22 1211.61L1010.05 1216.29L1011.48 1223.12L1005.42 1219.65L999.37 1223.12L1000.8 1216.29L995.63 1211.61L1002.57 1210.86ZM1019.5 1204.49L1022.36 1210.86L1029.3 1211.61L1024.12 1216.29L1025.55 1223.12L1019.5 1219.65L1013.45 1223.12L1014.88 1216.29L1009.7 1211.61L1016.64 1210.86Z"/>
</g>
<g stroke="#000" stroke-width="5" fill="none">
<line x1="171.7" y1="1215.6" x2="1022.6" y2="1215.6"/>
<line x1="597.15" y1="867.3" x2="597.15" y2="1564.6"/>
<rect x="171.7" y="867.3" width="850.9" height="697.3"/>
<line x1="157.4" y1="1564.61" x2="171.7" y2="1564.61"/>
<line x1="164.8" y1="1506.5" x2="171.7" y2="1506.5"/>
<line x1="157.4" y1="1448.39" x2="171.7" y2="1448.39"/>
<line x1="164.8" y1="1390.28" x2="171.7" y2="1390.28"/>
<line x1="157.4" y1="1332.17" x2="171.7" y2="1332.17"/>
<line x1="164.8" y1="1274.06" x2="171.7" y2="1274.06"/>
<line x1="157.4" y1="1215.95" x2="171.7" y2="1215.95"/>
<line x1="164.8" y1="1157.84" x2="171.7" y2="1157.84"/>
<line x1="157.4" y1="1099.73" x2="171.7" y2="1099.73"/>
<line x1="164.8" y1="1041.62" x2="171.7" y2="1041.62"/>
<line x1="157.4" y1="983.51" x2="171.7" y2="983.51"/>
<line x1="164.8" y1="925.4" x2="171.7" y2="925.4"/>
<line x1="157.4" y1="867.29" x2="171.7" y2="867.29"/>
<line x1="171.65" y1="1564.6" x2="171.65" y2="1571"/>
<line x1="256.75" y1="1564.6" x2="256.75" y2="1578"/>
<line x1="341.85" y1="1564.6" x2="341.85" y2="1571"/>
<line x1="426.95" y1="1564.6" x2="426.95" y2="1578"/>
<line x1="512.05" y1="1564.6" x2="512.05" y2="1571"/>
<line x1="597.15" y1="1564.6" x2="597.15" y2="1578"/>
<line x1="682.25" y1="1564.6" x2="682.25" y2="1571"/>
<line x1="767.35" y1="1564.6" x2="767.35" y2="1578"/>
<line x1="852.45" y1="1564.6" x2="852.45" y2="1571"/>
<line x1="937.55" y1="1564.6" x2="937.55" y2="1578"/>
<line x1="1022.65" y1="1564.6" x2="1022.65" y2="1571"/>
</g>
<g font-family="'Liberation Sans', Arial, Helvetica, sans-serif" font-size="30" fill="#000" stroke="#000" stroke-width="0.3">
<text transform="translate(148 876.99) scale(1.01 1.08)" text-anchor="end">60</text>
<text transform="translate(148 993.21) scale(1.01 1.08)" text-anchor="end">40</text>
<text transform="translate(148 1109.43) scale(1.01 1.08)" text-anchor="end">20</text>
<text transform="translate(148 1225.65) scale(1.01 1.08)" text-anchor="end">0</text>
<text transform="translate(148 1341.87) scale(1.01 1.08)" text-anchor="end">-20</text>
<text transform="translate(148 1458.09) scale(1.01 1.08)" text-anchor="end">-40</text>
<text transform="translate(148 1574.31) scale(1.01 1.08)" text-anchor="end">-60</text>
<text transform="translate(256.75 1612) scale(1 1.07)" text-anchor="middle">-0.4</text>
<text transform="translate(426.95 1612) scale(1 1.07)" text-anchor="middle">-0.2</text>
<text transform="translate(597.15 1612) scale(1 1.07)" text-anchor="middle">0.0</text>
<text transform="translate(767.35 1612) scale(1 1.07)" text-anchor="middle">0.2</text>
<text transform="translate(937.55 1612) scale(1 1.07)" text-anchor="middle">0.4</text>
</g>
<text x="597.5" y="1670" text-anchor="middle" font-family="'Liberation Sans', Arial, Helvetica, sans-serif" font-weight="bold" font-size="37">Field (T)</text>
<text transform="translate(82 1216) rotate(-90)" text-anchor="middle" font-family="'Liberation Sans', Arial, Helvetica, sans-serif" font-weight="bold" font-size="37">Magnetization (emu/cm<tspan font-size="26" dy="-15">3</tspan><tspan dy="15">)</tspan></text>
<text transform="translate(788.5 1439) scale(1.045 1)" text-anchor="middle" font-family="'Liberation Sans', Arial, Helvetica, sans-serif" font-size="47">(b)</text>
<path stroke="#0000ff" stroke-width="3.2" d="M195.1 911.8H227.8M247.6 911.8H280.5"/>
<path fill="#0000ff" d="M229.9 904h15.6v15.6h-15.6Z"/>
<text transform="translate(290.1 925.3) scale(1 1.01)" font-family="'Liberation Sans', Arial, Helvetica, sans-serif" font-size="37">45 nm</text>
<path stroke="#ff0000" stroke-width="3.2" d="M195.1 957.2H227.8M247.6 957.2H280.5"/>
<path fill="#ff0000" d="M228.8 957.2a8.9 8.9 0 1 0 17.8 0a8.9 8.9 0 1 0 -17.8 0Z"/>
<text transform="translate(290.1 970.7) scale(1 1.01)" font-family="'Liberation Sans', Arial, Helvetica, sans-serif" font-size="37">100 nm</text>
<path stroke="#00ff00" stroke-width="3.2" d="M195.1 1003.3H227.8M247.6 1003.3H280.5"/>
<path fill="#00ff00" d="M227.4 1003.3L244.5 992.6L244.5 1014Z"/>
<text transform="translate(290.1 1016.8) scale(1 1.01)" font-family="'Liberation Sans', Arial, Helvetica, sans-serif" font-size="37">200 nm</text>
<path stroke="#9900cc" stroke-width="3.2" d="M195.1 1047.9H227.8M247.6 1047.9H280.5"/>
<path fill="#9900cc" d="M237.7 1038.4L240.56 1044.77L247.5 1045.52L242.32 1050.2L243.75 1057.03L237.7 1053.56L231.65 1057.03L233.08 1050.2L227.9 1045.52L234.84 1044.77Z"/>
<text transform="translate(290.1 1061.4) scale(1 1.01)" font-family="'Liberation Sans', Arial, Helvetica, sans-serif" font-size="37">300 nm</text>
</svg>
</body></html>
